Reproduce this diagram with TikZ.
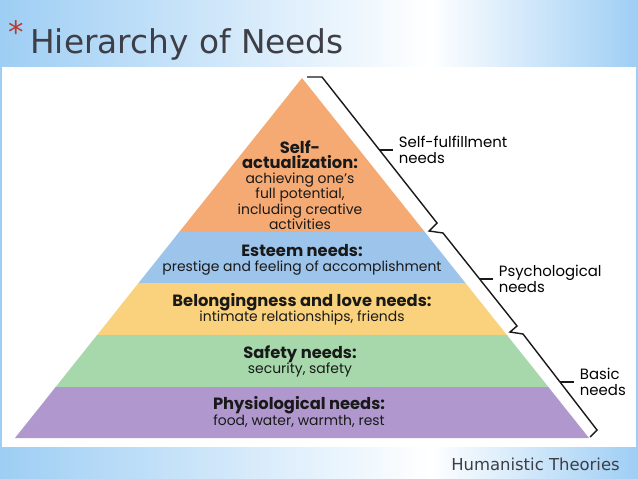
\documentclass[tikz,border=0pt]{standalone}
\usepackage{fontspec}
\setmainfont{Poppins}
\newfontfamily\titlefont{DejaVu Sans}
\usepackage{xcolor}
\usetikzlibrary{positioning}

\definecolor{bandblue}{RGB}{158,206,244}
\definecolor{selfcol}{RGB}{246,170,115}
\definecolor{esteemcol}{RGB}{157,196,234}
\definecolor{lovecol}{RGB}{250,210,125}
\definecolor{safecol}{RGB}{166,216,172}
\definecolor{physcol}{RGB}{176,152,206}
\definecolor{titlegray}{RGB}{62,62,70}
\definecolor{starred}{RGB}{180,60,50}
\newcommand{\headfont}{\bfseries\fontsize{11.6}{12.2}\selectfont}

\begin{document}
\begin{tikzpicture}[x=0.025cm, y=-0.025cm,
    needtext/.style={align=center, inner sep=0pt, text=black!90, font=\fontsize{9.9}{10.8}\selectfont},
    sidelabel/.style={align=left, anchor=west, inner xsep=4pt, inner ysep=0pt, font=\fontsize{10.6}{11.8}\selectfont},
    brace/.style={line width=1pt, line join=miter, black!90}]
    \useasboundingbox (0,0) rectangle (638,479);
    % background bands and white panel
    \shade[left color=bandblue, right color=white] (0,0) rectangle (430,479);
    \shade[left color=white, right color=bandblue] (430,0) rectangle (638,479);
    \fill[white] (2,67) rectangle (636,447);

    % title
    \node[anchor=base west, inner sep=0pt, font=\titlefont\fontsize{23.3}{23.3}\selectfont, text=titlegray] (title) at (30,54) {Hierarchy of Needs};
    \node[inner sep=0pt, font=\titlefont\fontsize{22}{22}\selectfont, text=starred] (star) at (16,32) {*};
    \node[anchor=base east, inner sep=0pt, font=\titlefont\fontsize{11.7}{11.7}\selectfont, text=titlegray] (theories) at (620,470) {Humanistic Theories};

    % pyramid
    \coordinate (apex) at (302,78);
    \coordinate (bl) at (15,438);
    \coordinate (br) at (589,438);
    \begin{scope}
        \clip (apex) -- (bl) -- (br) -- cycle;
        \foreach \ytop/\ybot/\col in {70/232.5/selfcol, 232/283.5/esteemcol, 283/335.5/lovecol, 335/387.5/safecol, 387/440/physcol} {
            \fill[\col] (0,\ytop) rectangle (638,\ybot);
        }
    \end{scope}

    \node[needtext] (selfact) at (300,185) {{\headfont Self-}\\{\headfont actualization:}\\achieving one's\\full potential,\\including creative\\activities};
    \foreach \name/\x/\y/\head/\body in {esteem/302/259.5/{Esteem needs:}/{prestige and feeling of accomplishment},
        love/302/309.5/{Belongingness and love needs:}/{intimate relationships, friends},
        safety/300/361/{Safety needs:}/{security, safety},
        phys/299/412/{Physiological needs:}/{food, water, warmth, rest}} {
        \node[needtext] (\name) at (\x,\y) {{\headfont \head}\\\body};
    }

    % braces on the right
    \coordinate (b0) at (307,77);
    \coordinate (b1) at (322,77);
    \coordinate (b2) at (437,223);
    \coordinate (b3) at (429,231);
    \coordinate (b4) at (443,233);
    \coordinate (b5) at (517,326);
    \coordinate (b6) at (510,332);
    \coordinate (b7) at (523,334);
    \coordinate (b8) at (597,430);
    \coordinate (b9) at (590,437);
    \draw[brace] (b0) -- (b1) -- (b2) -- (b3) -- (b4) -- (b5) -- (b6) -- (b7) -- (b8) -- (b9);

    \coordinate (t1) at (379.5,150);
    \coordinate (t2) at (479.6,279);
    \coordinate (t3) at (560,382);
    \node[sidelabel] (fulfil) at (393,150) {Self-fulfillment\\needs};
    \node[sidelabel] (psych) at (493,279) {Psychological\\needs};
    \node[sidelabel] (basic) at (574,382) {Basic\\needs};
    \draw[brace] (t1) -- (fulfil.west);
    \draw[brace] (t2) -- (psych.west);
    \draw[brace] (t3) -- (basic.west);
\end{tikzpicture}
\end{document}
